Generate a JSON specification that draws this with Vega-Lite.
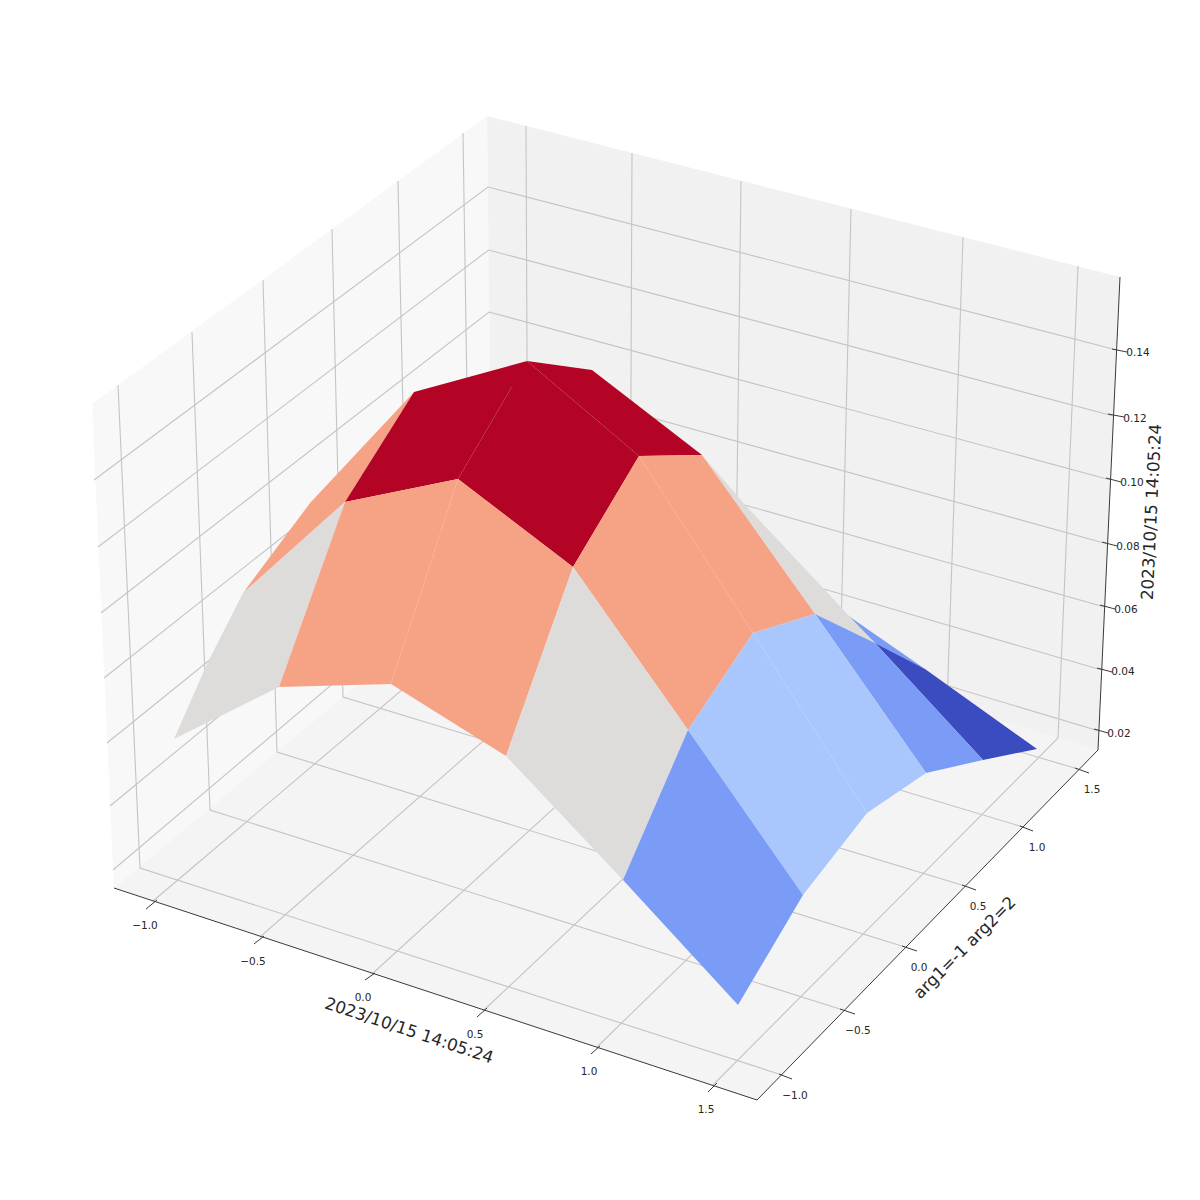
{"$schema":"https://vega.github.io/schema/vega-lite/v6.json","autosize":{"type":"fit","contains":"padding"},"width":1200,"height":1200,"padding":0,"background":"#ffffff","config":{"view":{"stroke":null}},
"resolve":{"scale":{"color":"independent"}},
"datasets":{
"panes":[
{"p":"a","s":1,"sx":92,"sy":404,"c":"left"},{"p":"a","s":2,"sx":487,"sy":116,"c":"left"},{"p":"a","s":3,"sx":492,"sy":572,"c":"left"},{"p":"a","s":4,"sx":114,"sy":888,"c":"left"},
{"p":"b","s":1,"sx":487,"sy":116,"c":"right"},{"p":"b","s":2,"sx":1120,"sy":277,"c":"right"},{"p":"b","s":3,"sx":1098,"sy":750,"c":"right"},{"p":"b","s":4,"sx":492,"sy":572,"c":"right"},
{"p":"c","s":1,"sx":114,"sy":888,"c":"floor"},{"p":"c","s":2,"sx":492,"sy":572,"c":"floor"},{"p":"c","s":3,"sx":1098,"sy":750,"c":"floor"},{"p":"c","s":4,"sx":757,"sy":1100,"c":"floor"}],
"grid":[
{"l":"x-1","s":1,"sx":153,"sy":901},{"l":"x-1","s":2,"sx":528,"sy":583},{"l":"x-1","s":3,"sx":526,"sy":126},
{"l":"x-.5","s":1,"sx":260,"sy":937},{"l":"x-.5","s":2,"sx":630,"sy":612},{"l":"x-.5","s":3,"sx":632,"sy":153},
{"l":"x0","s":1,"sx":372,"sy":974},{"l":"x0","s":2,"sx":735,"sy":643},{"l":"x0","s":3,"sx":741,"sy":181},
{"l":"x.5","s":1,"sx":483,"sy":1011},{"l":"x.5","s":2,"sx":840,"sy":674},{"l":"x.5","s":3,"sx":851,"sy":209},
{"l":"x1","s":1,"sx":597,"sy":1047},{"l":"x1","s":2,"sx":947,"sy":706},{"l":"x1","s":3,"sx":963,"sy":237},
{"l":"x1.5","s":1,"sx":713,"sy":1085},{"l":"x1.5","s":2,"sx":1058,"sy":738},{"l":"x1.5","s":3,"sx":1078,"sy":266},
{"l":"y-1","s":1,"sx":782,"sy":1075},{"l":"y-1","s":2,"sx":140,"sy":868},{"l":"y-1","s":3,"sx":118,"sy":385},
{"l":"y-.5","s":1,"sx":843,"sy":1010},{"l":"y-.5","s":2,"sx":210,"sy":810},{"l":"y-.5","s":3,"sx":192,"sy":332},
{"l":"y0","s":1,"sx":905,"sy":947},{"l":"y0","s":2,"sx":277,"sy":752},{"l":"y0","s":3,"sx":263,"sy":280},
{"l":"y.5","s":1,"sx":965,"sy":886},{"l":"y.5","s":2,"sx":343,"sy":697},{"l":"y.5","s":3,"sx":332,"sy":229},
{"l":"y1","s":1,"sx":1023,"sy":827},{"l":"y1","s":2,"sx":408,"sy":642},{"l":"y1","s":3,"sx":398,"sy":181},
{"l":"y1.5","s":1,"sx":1078,"sy":769},{"l":"y1.5","s":2,"sx":470,"sy":590},{"l":"y1.5","s":3,"sx":463,"sy":133},
{"l":"z.14","s":1,"sx":94,"sy":480},{"l":"z.14","s":2,"sx":488,"sy":187},{"l":"z.14","s":3,"sx":1116.6,"sy":350},
{"l":"z.12","s":1,"sx":98,"sy":547},{"l":"z.12","s":2,"sx":488.5,"sy":250},{"l":"z.12","s":3,"sx":1113.5,"sy":416},
{"l":"z.10","s":1,"sx":101,"sy":613},{"l":"z.10","s":2,"sx":489,"sy":312},{"l":"z.10","s":3,"sx":1110.6,"sy":480},
{"l":"z.08","s":1,"sx":104,"sy":678},{"l":"z.08","s":2,"sx":490,"sy":373},{"l":"z.08","s":3,"sx":1107.6,"sy":544},
{"l":"z.06","s":1,"sx":107,"sy":743},{"l":"z.06","s":2,"sx":490.5,"sy":433},{"l":"z.06","s":3,"sx":1104.6,"sy":607},
{"l":"z.04","s":1,"sx":110,"sy":806},{"l":"z.04","s":2,"sx":491,"sy":492},{"l":"z.04","s":3,"sx":1101.7,"sy":670},
{"l":"z.02","s":1,"sx":113,"sy":870},{"l":"z.02","s":2,"sx":491.5,"sy":549},{"l":"z.02","s":3,"sx":1099,"sy":731}],
"axes":[
{"l":"ax","s":1,"sx":114,"sy":888},{"l":"ax","s":2,"sx":757,"sy":1100},
{"l":"ay","s":1,"sx":757,"sy":1100},{"l":"ay","s":2,"sx":1098,"sy":750},
{"l":"az","s":1,"sx":1098,"sy":750},{"l":"az","s":2,"sx":1120,"sy":277},
{"l":"tx1","s":1,"sx":157,"sy":900},{"l":"tx1","s":2,"sx":146,"sy":909},
{"l":"tx2","s":1,"sx":264,"sy":936},{"l":"tx2","s":2,"sx":254,"sy":944},
{"l":"tx3","s":1,"sx":375,"sy":973},{"l":"tx3","s":2,"sx":365,"sy":980},
{"l":"tx4","s":1,"sx":487,"sy":1008},{"l":"tx4","s":2,"sx":477,"sy":1017},
{"l":"tx5","s":1,"sx":600,"sy":1046},{"l":"tx5","s":2,"sx":591,"sy":1054},
{"l":"tx6","s":1,"sx":717,"sy":1083},{"l":"tx6","s":2,"sx":708,"sy":1092},
{"l":"ty1","s":1,"sx":779,"sy":1074},{"l":"ty1","s":2,"sx":792,"sy":1079},
{"l":"ty2","s":1,"sx":840,"sy":1009},{"l":"ty2","s":2,"sx":855,"sy":1014},
{"l":"ty3","s":1,"sx":902,"sy":946},{"l":"ty3","s":2,"sx":917,"sy":951},
{"l":"ty4","s":1,"sx":962,"sy":885},{"l":"ty4","s":2,"sx":976,"sy":890},
{"l":"ty5","s":1,"sx":1020,"sy":826},{"l":"ty5","s":2,"sx":1033,"sy":831},
{"l":"ty6","s":1,"sx":1075,"sy":768},{"l":"ty6","s":2,"sx":1089,"sy":773},
{"l":"tz1","s":1,"sx":1112,"sy":349},{"l":"tz1","s":2,"sx":1127,"sy":352},
{"l":"tz2","s":1,"sx":1108,"sy":414},{"l":"tz2","s":2,"sx":1124,"sy":417},
{"l":"tz3","s":1,"sx":1106,"sy":478},{"l":"tz3","s":2,"sx":1121,"sy":482},
{"l":"tz4","s":1,"sx":1102,"sy":542},{"l":"tz4","s":2,"sx":1117,"sy":546},
{"l":"tz5","s":1,"sx":1100,"sy":605},{"l":"tz5","s":2,"sx":1115,"sy":609},
{"l":"tz6","s":1,"sx":1097,"sy":668},{"l":"tz6","s":2,"sx":1112,"sy":672},
{"l":"tz7","s":1,"sx":1094,"sy":729},{"l":"tz7","s":2,"sx":1108,"sy":733}],
"surface":[
{"p":"f01","s":1,"sx":840,"sy":610,"band":"b2"},{"p":"f01","s":2,"sx":875,"sy":643,"band":"b2"},{"p":"f01","s":3,"sx":925,"sy":669,"band":"b2"},
{"p":"f02","s":1,"sx":702,"sy":455,"band":"b4"},{"p":"f02","s":2,"sx":815,"sy":614,"band":"b4"},{"p":"f02","s":3,"sx":875,"sy":643,"band":"b4"},{"p":"f02","s":4,"sx":850,"sy":617,"band":"b4"},{"p":"f02","s":5,"sx":823,"sy":588,"band":"b4"},{"p":"f02","s":6,"sx":747,"sy":507,"band":"b4"},
{"p":"f03","s":1,"sx":875,"sy":643,"band":"b1"},{"p":"f03","s":2,"sx":983,"sy":760,"band":"b1"},{"p":"f03","s":3,"sx":1037,"sy":749,"band":"b1"},{"p":"f03","s":4,"sx":925,"sy":669,"band":"b1"},
{"p":"f04","s":1,"sx":815,"sy":614,"band":"b2"},{"p":"f04","s":2,"sx":926,"sy":773,"band":"b2"},{"p":"f04","s":3,"sx":983,"sy":760,"band":"b2"},{"p":"f04","s":4,"sx":875,"sy":643,"band":"b2"},
{"p":"f05","s":1,"sx":527,"sy":361,"band":"b6"},{"p":"f05","s":2,"sx":639,"sy":456,"band":"b6"},{"p":"f05","s":3,"sx":702,"sy":455,"band":"b6"},{"p":"f05","s":4,"sx":592,"sy":370,"band":"b6"},
{"p":"f06","s":1,"sx":639,"sy":456,"band":"b5"},{"p":"f06","s":2,"sx":753,"sy":633,"band":"b5"},{"p":"f06","s":3,"sx":815,"sy":614,"band":"b5"},{"p":"f06","s":4,"sx":702,"sy":455,"band":"b5"},
{"p":"f07","s":1,"sx":753,"sy":633,"band":"b3"},{"p":"f07","s":2,"sx":867,"sy":813,"band":"b3"},{"p":"f07","s":3,"sx":926,"sy":773,"band":"b3"},{"p":"f07","s":4,"sx":815,"sy":614,"band":"b3"},
{"p":"f08","s":1,"sx":243,"sy":593,"band":"b5"},{"p":"f08","s":2,"sx":345,"sy":502,"band":"b5"},{"p":"f08","s":3,"sx":414,"sy":392,"band":"b5"},{"p":"f08","s":4,"sx":310,"sy":503,"band":"b5"},
{"p":"f09","s":1,"sx":345,"sy":502,"band":"b6"},{"p":"f09","s":2,"sx":458,"sy":479,"band":"b6"},{"p":"f09","s":3,"sx":527,"sy":361,"band":"b6"},{"p":"f09","s":4,"sx":414,"sy":392,"band":"b6"},
{"p":"f10","s":1,"sx":458,"sy":479,"band":"b6"},{"p":"f10","s":2,"sx":573,"sy":567,"band":"b6"},{"p":"f10","s":3,"sx":639,"sy":456,"band":"b6"},{"p":"f10","s":4,"sx":527,"sy":361,"band":"b6"},
{"p":"f10b","s":1,"sx":510,"sy":385,"band":"b6"},{"p":"f10b","s":2,"sx":521,"sy":366,"band":"b6"},{"p":"f10b","s":3,"sx":527,"sy":362,"band":"b6"},{"p":"f10b","s":4,"sx":536,"sy":370,"band":"b6"},{"p":"f10b","s":5,"sx":548,"sy":380,"band":"b6"},{"p":"f10b","s":6,"sx":527,"sy":392,"band":"b6"},
{"p":"f11","s":1,"sx":573,"sy":567,"band":"b5"},{"p":"f11","s":2,"sx":688,"sy":730,"band":"b5"},{"p":"f11","s":3,"sx":753,"sy":633,"band":"b5"},{"p":"f11","s":4,"sx":639,"sy":456,"band":"b5"},
{"p":"f12","s":1,"sx":688,"sy":730,"band":"b3"},{"p":"f12","s":2,"sx":803,"sy":895,"band":"b3"},{"p":"f12","s":3,"sx":867,"sy":813,"band":"b3"},{"p":"f12","s":4,"sx":753,"sy":633,"band":"b3"},
{"p":"f13","s":1,"sx":174,"sy":739,"band":"b4"},{"p":"f13","s":2,"sx":279,"sy":687,"band":"b4"},{"p":"f13","s":3,"sx":345,"sy":502,"band":"b4"},{"p":"f13","s":4,"sx":243,"sy":593,"band":"b4"},{"p":"f13","s":5,"sx":207,"sy":664,"band":"b4"},
{"p":"f14","s":1,"sx":279,"sy":687,"band":"b5"},{"p":"f14","s":2,"sx":391,"sy":684,"band":"b5"},{"p":"f14","s":3,"sx":458,"sy":479,"band":"b5"},{"p":"f14","s":4,"sx":345,"sy":502,"band":"b5"},
{"p":"f15","s":1,"sx":391,"sy":684,"band":"b5"},{"p":"f15","s":2,"sx":506,"sy":756,"band":"b5"},{"p":"f15","s":3,"sx":573,"sy":567,"band":"b5"},{"p":"f15","s":4,"sx":458,"sy":479,"band":"b5"},
{"p":"f16","s":1,"sx":506,"sy":756,"band":"b4"},{"p":"f16","s":2,"sx":623,"sy":880,"band":"b4"},{"p":"f16","s":3,"sx":688,"sy":730,"band":"b4"},{"p":"f16","s":4,"sx":573,"sy":567,"band":"b4"},
{"p":"f17","s":1,"sx":623,"sy":880,"band":"b2"},{"p":"f17","s":2,"sx":738,"sy":1005,"band":"b2"},{"p":"f17","s":3,"sx":803,"sy":895,"band":"b2"},{"p":"f17","s":4,"sx":688,"sy":730,"band":"b2"}],
"ticks":[
{"t":"−1.0","sx":145,"sy":925.5},{"t":"−0.5","sx":253,"sy":961.5},{"t":"0.0","sx":363,"sy":997.5},{"t":"0.5","sx":475,"sy":1034.5},{"t":"1.0","sx":589,"sy":1071.5},{"t":"1.5","sx":706,"sy":1109.5},
{"t":"−1.0","sx":795,"sy":1095.5},{"t":"−0.5","sx":858,"sy":1030.5},{"t":"0.0","sx":919,"sy":967.5},{"t":"0.5","sx":978,"sy":906.5},{"t":"1.0","sx":1037,"sy":847.5},{"t":"1.5","sx":1092,"sy":789.5},
{"t":"0.14","sx":1138,"sy":352.5},{"t":"0.12","sx":1135,"sy":418.5},{"t":"0.10","sx":1132,"sy":482.5},{"t":"0.08","sx":1128,"sy":546.5},{"t":"0.06","sx":1126,"sy":609.5},{"t":"0.04","sx":1123,"sy":671.5},{"t":"0.02","sx":1119,"sy":733.5}]
},
"encoding":{
"x":{"field":"sx","type":"quantitative","scale":{"domain":[0,1200]},"axis":null},
"y":{"field":"sy","type":"quantitative","scale":{"domain":[1200,0]},"axis":null}},
"layer":[
{"data":{"name":"panes"},"mark":{"type":"line","filled":true,"strokeWidth":0},
"encoding":{"detail":{"field":"p"},"order":{"field":"s","type":"quantitative"},"color":{"field":"c","type":"nominal","legend":null,"scale":{"domain":["left","right","floor"],"range":["#f8f8f8","#f1f1f1","#f4f4f4"]}}}},
{"data":{"name":"grid"},"mark":{"type":"line","stroke":"#c4c4c4","strokeWidth":1.1},
"encoding":{"detail":{"field":"l"},"order":{"field":"s","type":"quantitative"}}},
{"data":{"name":"axes"},"mark":{"type":"line","stroke":"#3a3a3a","strokeWidth":1},
"encoding":{"detail":{"field":"l"},"order":{"field":"s","type":"quantitative"}}},
{"data":{"name":"surface"},"mark":{"type":"line","filled":true,"strokeWidth":0},
"encoding":{"detail":{"field":"p"},"order":{"field":"s","type":"quantitative"},"color":{"field":"band","type":"nominal","legend":null,"scale":{"domain":["b1","b2","b3","b4","b5","b6"],"range":["#3b4cc0","#7a9cf7","#aac7fd","#dddcdb","#f6a385","#b40426"]}}}},
{"data":{"name":"ticks"},"mark":{"type":"text","font":"DejaVu Sans","fontSize":10.5,"color":"#262626","align":"center","baseline":"middle"},"encoding":{"text":{"field":"t"}}},
{"data":{"values":[{"t":"2023/10/15 14:05:24","sx":409,"sy":1031}]},"mark":{"type":"text","font":"DejaVu Sans","fontSize":16.7,"color":"#262626","align":"center","baseline":"middle","angle":18.4},"encoding":{"text":{"field":"t"}}},
{"data":{"values":[{"t":"arg1=-1 arg2=2","sx":965,"sy":948}]},"mark":{"type":"text","font":"DejaVu Sans","fontSize":16.7,"color":"#262626","align":"center","baseline":"middle","angle":-45},"encoding":{"text":{"field":"t"}}},
{"data":{"values":[{"t":"2023/10/15 14:05:24","sx":1152,"sy":512}]},"mark":{"type":"text","font":"DejaVu Sans","fontSize":16.7,"color":"#262626","align":"center","baseline":"middle","angle":-87.3},"encoding":{"text":{"field":"t"}}}
]}
